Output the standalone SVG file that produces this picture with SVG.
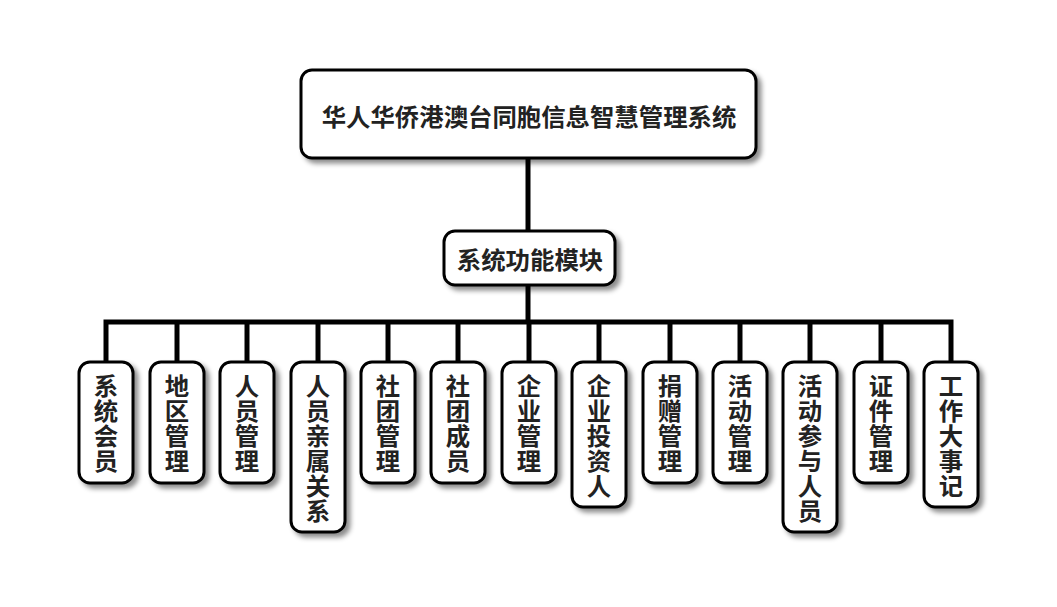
<svg xmlns="http://www.w3.org/2000/svg" width="1057" height="607" viewBox="0 0 1057 607">
<defs>
<filter id="sh" x="-20%" y="-20%" width="150%" height="150%">
<feDropShadow dx="4" dy="4" stdDeviation="2.5" flood-color="#000" flood-opacity="0.45"/>
</filter>
<style>
.box{fill:#fff;stroke:#000;stroke-width:3;filter:url(#sh)}
.t{font-family:"Noto Sans CJK SC","Noto Sans",sans-serif;font-weight:bold;font-size:24.4px;fill:#222;text-anchor:middle;dominant-baseline:central}
.v{font-family:"Noto Sans CJK SC","Noto Sans",sans-serif;font-weight:bold;font-size:24.4px;fill:#222;text-anchor:middle;writing-mode:vertical-rl;letter-spacing:0.6px}
.c{stroke:#000;stroke-width:5;fill:none}
</style>
</defs>
<rect width="1057" height="607" fill="#fff"/>
<g id="connectors">
<line class="c" x1="528" y1="158" x2="528" y2="231"/>
<line class="c" x1="528" y1="285" x2="528" y2="322"/>
<polyline class="c" points="106,362 106,322 951,322 951,362"/>
<line class="c" x1="177" y1="322" x2="177" y2="362"/>
<line class="c" x1="247" y1="322" x2="247" y2="362"/>
<line class="c" x1="318" y1="322" x2="318" y2="362"/>
<line class="c" x1="388" y1="322" x2="388" y2="362"/>
<line class="c" x1="458" y1="322" x2="458" y2="362"/>
<line class="c" x1="529" y1="322" x2="529" y2="362"/>
<line class="c" x1="599" y1="322" x2="599" y2="362"/>
<line class="c" x1="670" y1="322" x2="670" y2="362"/>
<line class="c" x1="740" y1="322" x2="740" y2="362"/>
<line class="c" x1="810" y1="322" x2="810" y2="362"/>
<line class="c" x1="881" y1="322" x2="881" y2="362"/>
</g>
<g id="root">
<rect class="box" x="301" y="70" width="455" height="88" rx="11"/>
<text class="t" x="529" y="115">华人华侨港澳台同胞信息智慧管理系统</text>
</g>
<g id="modules">
<rect class="box" x="444" y="231" width="171" height="54" rx="11"/>
<text class="t" x="530" y="258">系统功能模块</text>
</g>
<g id="n1"><rect class="box" x="79" y="362" width="54" height="121" rx="11"/>
<text class="v" x="106" y="424">系统会员</text></g>
<g id="n2"><rect class="box" x="150" y="362" width="54" height="121" rx="11"/>
<text class="v" x="177" y="424">地区管理</text></g>
<g id="n3"><rect class="box" x="220" y="362" width="54" height="121" rx="11"/>
<text class="v" x="247" y="424">人员管理</text></g>
<g id="n4"><rect class="box" x="291" y="362" width="54" height="170" rx="11"/>
<text class="v" x="318" y="449">人员亲属关系</text></g>
<g id="n5"><rect class="box" x="361" y="362" width="54" height="121" rx="11"/>
<text class="v" x="388" y="424">社团管理</text></g>
<g id="n6"><rect class="box" x="431" y="362" width="54" height="121" rx="11"/>
<text class="v" x="458" y="424">社团成员</text></g>
<g id="n7"><rect class="box" x="502" y="362" width="54" height="121" rx="11"/>
<text class="v" x="529" y="424">企业管理</text></g>
<g id="n8"><rect class="box" x="572" y="362" width="54" height="145" rx="11"/>
<text class="v" x="599" y="436">企业投资人</text></g>
<g id="n9"><rect class="box" x="643" y="362" width="54" height="121" rx="11"/>
<text class="v" x="670" y="424">捐赠管理</text></g>
<g id="n10"><rect class="box" x="713" y="362" width="54" height="121" rx="11"/>
<text class="v" x="740" y="424">活动管理</text></g>
<g id="n11"><rect class="box" x="783" y="362" width="54" height="170" rx="11"/>
<text class="v" x="810" y="449">活动参与人员</text></g>
<g id="n12"><rect class="box" x="854" y="362" width="54" height="121" rx="11"/>
<text class="v" x="881" y="424">证件管理</text></g>
<g id="n13"><rect class="box" x="924" y="362" width="54" height="145" rx="11"/>
<text class="v" x="951" y="436">工作大事记</text></g>
</svg>
